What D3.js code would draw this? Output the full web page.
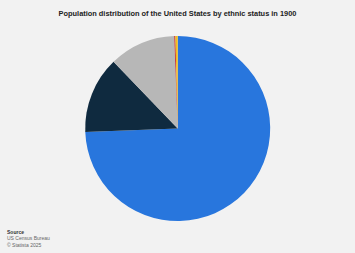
<!DOCTYPE html>
<html lang="en">
<head>
<meta charset="utf-8">
<script src="https://cdn.jsdelivr.net/npm/d3@7"></script>
<style>
    body { margin: 0; background: #f2f2f2; }
    svg { display: block; font-family: "Liberation Sans", Arial, sans-serif; }
</style>
</head>
<body>
<div id="chart"></div>
<script>
    // Chart data (share of population, %)
    const categories = ["Native white", "Foreign-born white", "Black", "American Indian", "Asian"];
    const shares = [74.4, 13.4, 11.6, 0.2, 0.4];
    const colors = ["#2876dd", "#0f2a3f", "#b7b7b7", "#c0262d", "#f2bd1d"];
    const title = "Population distribution of the United States by ethnic status in 1900";
    const sourceLines = ["Source", "US Census Bureau", "© Statista 2025"];

    const width = 355, height = 253;
    const cx = 177.7, cy = 128.5, radius = 92.5;

    const svg = d3.select("#chart").append("svg")
        .attr("width", width)
        .attr("height", height);

    svg.append("rect")
        .attr("width", width)
        .attr("height", height)
        .attr("fill", "#f2f2f2");

    // Title
    svg.append("text")
        .attr("x", width / 2)
        .attr("y", 16)
        .attr("text-anchor", "middle")
        .attr("font-size", 7.4)
        .attr("font-weight", "bold")
        .attr("fill", "#222")
        .text(title);

    // Pie
    const data = categories.map((c, i) => ({ name: c, value: shares[i], color: colors[i] }));
    const pie = d3.pie().value(d => d.value).sort(null);
    const arc = d3.arc().innerRadius(0).outerRadius(radius);

    svg.append("g")
        .attr("transform", `translate(${cx},${cy})`)
        .selectAll("path")
        .data(pie(data))
        .enter().append("path")
        .attr("d", arc)
        .attr("fill", d => d.data.color);

    // Source block
    svg.append("g")
        .selectAll("text")
        .data(sourceLines)
        .enter().append("text")
        .attr("x", 7)
        .attr("y", (d, i) => 234 + i * 6.3)
        .attr("font-size", 5)
        .attr("font-weight", (d, i) => i === 0 ? "bold" : "normal")
        .attr("fill", (d, i) => i === 0 ? "#333" : "#666")
        .text(d => d);
</script>
</body>
</html>
